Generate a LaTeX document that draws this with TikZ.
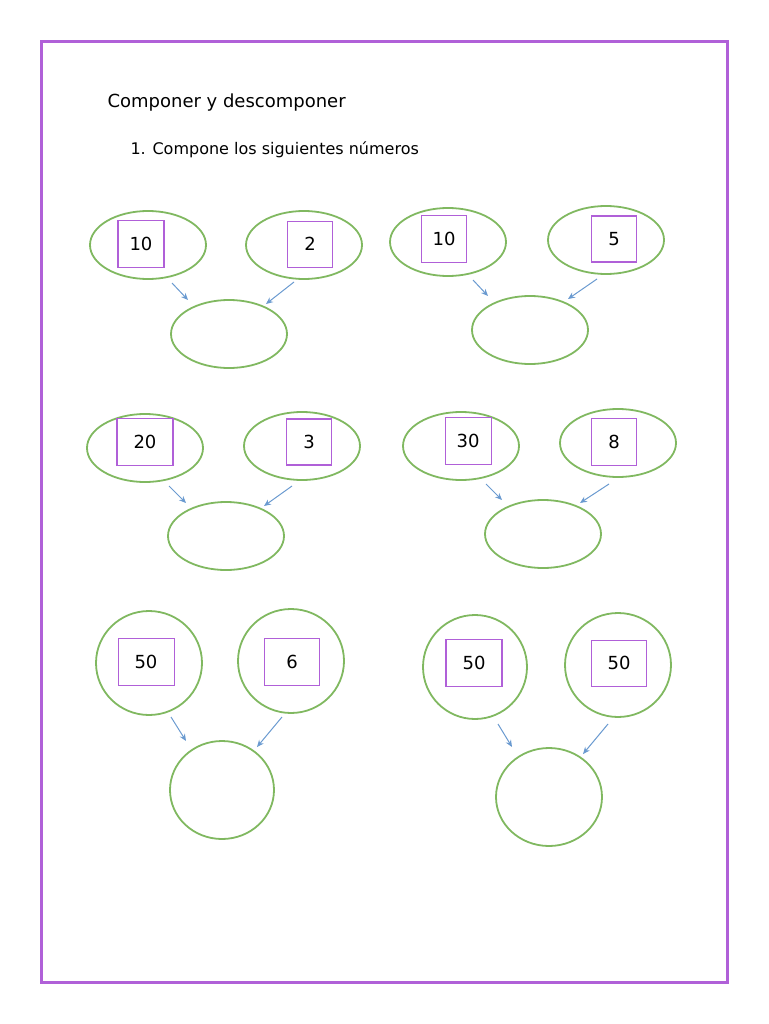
\documentclass[tikz,border=0pt]{standalone}
\usepackage{fontspec}
\setmainfont{DejaVu Sans}
\usetikzlibrary{arrows.meta}
\definecolor{pur}{HTML}{B060D8}
\definecolor{grn}{HTML}{80B860}
\definecolor{blu}{HTML}{6A9AD0}
\begin{document}
\begin{tikzpicture}[x=1pt,y=-1pt,
  ov/.style={draw=grn,line width=1.8pt},
  bx/.style={draw=pur,line width=1.3pt,font=\fontsize{18}{21}\selectfont},
  ar/.style={draw=blu,line width=1pt,-{Stealth[length=7pt,width=6pt]}}]
\useasboundingbox (0,0) rectangle (768,1024);
\draw[pur,line width=3pt] (41,42) rectangle (727,982);
\node[anchor=west,font=\fontsize{18}{22}\selectfont] (t) at (104,103) {Componer y descomponer};
\node[anchor=west,font=\fontsize{16}{19}\selectfont] (s) at (127,150) {1. Compone los siguientes números};
% G1
\draw[ov] (148,245) ellipse (58 and 34); \draw[ov] (304,245) ellipse (58 and 34); \draw[ov] (229,334) ellipse (58 and 34);
\node[bx,minimum width=46,minimum height=47] (b1) at (141,244) {10};
\node[bx,minimum width=45,minimum height=46,line width=0.8pt] (b2) at (310,244) {2};
\coordinate (a1) at (172,283); \coordinate (a2) at (188,300); \draw[ar] (a1)--(a2);
\coordinate (a3) at (294,282); \coordinate (a4) at (266,304); \draw[ar] (a3)--(a4);
% G2
\draw[ov] (448,242) ellipse (58 and 34); \draw[ov] (606,240) ellipse (58 and 34); \draw[ov] (530,330) ellipse (58 and 34);
\node[bx,minimum width=45,minimum height=47] (b3) at (444,239) {10};
\node[bx,minimum width=45,minimum height=46] (b4) at (614,239) {5};
\coordinate (c1) at (473,280); \coordinate (c2) at (488,296); \draw[ar] (c1)--(c2);
\coordinate (c3) at (597,279); \coordinate (c4) at (568,299); \draw[ar] (c3)--(c4);
% G3
\draw[ov] (145,448) ellipse (58 and 34); \draw[ov] (302,446) ellipse (58 and 34); \draw[ov] (226,536) ellipse (58 and 34);
\node[bx,minimum width=56,minimum height=47] (b5) at (145,442) {20};
\node[bx,minimum width=45,minimum height=46] (b6) at (309,442) {3};
\coordinate (d1) at (169,486); \coordinate (d2) at (186,503); \draw[ar] (d1)--(d2);
\coordinate (d3) at (292,486); \coordinate (d4) at (264,506); \draw[ar] (d3)--(d4);
% G4
\draw[ov] (461,446) ellipse (58 and 34); \draw[ov] (618,443) ellipse (58 and 34); \draw[ov] (543,534) ellipse (58 and 34);
\node[bx,minimum width=46,minimum height=47,line width=0.8pt] (b7) at (468,441) {30};
\node[bx,minimum width=45,minimum height=47] (b8) at (614,442) {8};
\coordinate (e1) at (486,484); \coordinate (e2) at (502,500); \draw[ar] (e1)--(e2);
\coordinate (e3) at (609,484); \coordinate (e4) at (580,503); \draw[ar] (e3)--(e4);
% G5
\draw[ov] (149,663) ellipse (53 and 52); \draw[ov] (291,661) ellipse (53 and 52); \draw[ov] (222,790) ellipse (52 and 49);
\node[bx,minimum width=56,minimum height=47,line width=0.8pt] (b9) at (146,662) {50};
\node[bx,minimum width=55,minimum height=47,line width=1pt] (b10) at (292,662) {6};
\coordinate (f1) at (171,717); \coordinate (f2) at (186,741); \draw[ar] (f1)--(f2);
\coordinate (f3) at (282,717); \coordinate (f4) at (257,747); \draw[ar] (f3)--(f4);
% G6
\draw[ov] (475,667) ellipse (52 and 52); \draw[ov] (618,665) ellipse (53 and 52); \draw[ov] (549,797) ellipse (53 and 49);
\node[bx,minimum width=56,minimum height=47] (b11) at (474,663) {50};
\node[bx,minimum width=55,minimum height=46,line width=0.8pt] (b12) at (619,663) {50};
\coordinate (g1) at (498,724); \coordinate (g2) at (512,747); \draw[ar] (g1)--(g2);
\coordinate (g3) at (608,724); \coordinate (g4) at (583,754); \draw[ar] (g3)--(g4);
\end{tikzpicture}
\end{document}
